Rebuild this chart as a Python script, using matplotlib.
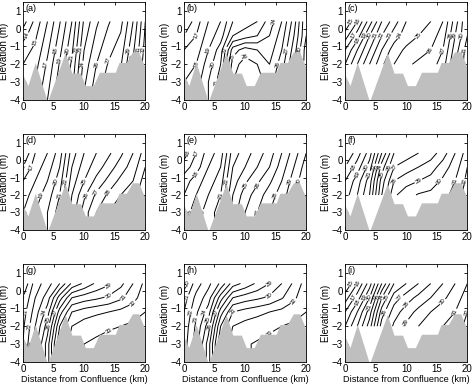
import numpy as np
import matplotlib
matplotlib.use("Agg")
import matplotlib.pyplot as plt

plt.rcParams['font.family'] = ['Liberation Sans', 'DejaVu Sans']

# grid for salinity fields (km, m)
x_grid = [0, 2, 4, 6, 8, 10, 12, 14, 16, 18, 20]
z_grid = [0.4, -0.4, -1.2, -2.0, -3.0, -4.0]

# bed profile
bed_x = [0, 0.8, 2.0, 3.9, 4.1, 6.9, 8.0, 9.4, 10.2, 11.5, 12.5, 15.1, 15.7, 16.9, 17.9, 18.9, 20]
bed_z = [-2.6, -3.2, -1.9, -4.0, -4.0, -1.35, -2.5, -2.5, -3.2, -3.2, -2.45, -2.45, -1.9, -1.9, -1.3, -1.3, -2.2]

nan = float('nan')
sal_a = [[12.5, 14.3, 16, 17.9, 20, 23.2, 24.8, 25.9, 26.7, 29, 32],
         [13.6, 14.8, 16.4, 18.3, 20.4, 23.6, 25.2, 26.3, 27.1, 29.4, 32.2],
         [14.6, 15.2, 16.8, 18.7, 20.8, 24.0, 25.6, 26.7, 27.5, 29.8, 32.4],
         [15.0, 15.6, 17.2, 19.1, 21.2, 24.4, 26.0, 27.1, 27.9, 30.2, 32.6],
         [15.4, 16.0, 17.6, 19.5, 21.6, 24.8, 26.4, 27.5, 28.3, 30.6, 32.8],
         [15.8, 16.4, 18.0, 19.9, 22.0, 25.2, 26.8, 27.9, 28.7, 31.0, 33.0]]
sal_b = [[15, 16.5, 18, 19, 21, 21.5, 22, 23.5, 25, 27.5, 31],
         [16, 17, 18.5, 19.5, 22, 22.5, 23, 24, 25.5, 28, 31],
         [17, 17.5, 19, 20.5, 24.5, 25.5, 25, 24.5, 26, 28.5, 31.5],
         [17.5, 18, 19.5, 21, 25.5, 26.5, 26, 25, 26.5, 29, 31.5],
         [18, 18.5, 20, 21.5, 26, 27, 26.5, 25.5, 27, 29.5, 32],
         [18, 18.5, 20, 21.5, 26, 27, 26.5, 25.5, 27, 29.5, 32]]
sal_c = [[14, 16, 18.5, 21, 22.5, 24, 24.5, 25, 26, 28.5, 31],
         [15.5, 17.5, 20, 22, 23.5, 24.5, 25, 25.5, 26.5, 29, 31],
         [17, 19, 21, 23, 24.5, 25.2, 25.6, 26, 27, 29.5, 31.5],
         [18, 20, 22, 23.8, 25, 25.8, 26.2, 26.5, 27.5, 30, 31.5],
         [nan, nan, nan, nan, nan, nan, nan, nan, nan, nan, nan],
         [nan, nan, nan, nan, nan, nan, nan, nan, nan, nan, nan]]
sal_d = [[15, 17, 18, 19.5, 22.5, 24, 25, 25.8, 26.8, 28, 29.5],
         [16, 17.5, 18.5, 20, 23, 24.5, 25.5, 26.5, 27.5, 28.5, 30],
         [17, 18, 19, 20.5, 23.5, 25, 26.3, 27.3, 28.3, 29, 30.5],
         [17.5, 18.5, 19.5, 21, 24, 25.8, 27.2, 28.2, 29, 29.5, 31],
         [18, 19, 20, 21.5, 24.5, 26.5, 28, 29, 29.5, 30, 31.5],
         [18, 19, 20, 21.5, 24.5, 26.5, 28, 29, 29.5, 30, 31.5]]
sal_e = [[15.5, 17, 18.5, 19.5, 22.5, 23.5, 24.5, 25.5, 27, 28.5, 30],
         [16.5, 17.5, 19, 20, 23, 24, 25, 26, 27.5, 29, 30.5],
         [17.5, 18.5, 19.5, 20.5, 23.5, 24.8, 25.8, 26.8, 28, 29.5, 30.8],
         [18, 19, 20, 21, 24, 25.5, 26.5, 27.5, 28.5, 29.8, 31],
         [18.5, 19.5, 20.5, 21.5, 24.5, 26, 27, 28, 29, 30, 31.2],
         [18.5, 19.5, 20.5, 21.5, 24.5, 26, 27, 28, 29, 30, 31.2]]
sal_f = [[16, 17.5, 19.5, 23, 26, 26.5, 27, 27.5, 28.5, 30, 31.5],
         [17, 18.5, 20.5, 24.5, 27, 27.5, 28, 28.5, 29.5, 30.5, 32],
         [18, 19.5, 21.5, 25.5, 28, 28.6, 29, 29.4, 30.2, 31, 32.3],
         [18.5, 20, 22, 26, 28.8, 29.6, 30.1, 30.3, 30.7, 31.3, 32.5],
         [nan, nan, nan, nan, nan, nan, nan, nan, nan, nan, nan],
         [nan, nan, nan, nan, nan, nan, nan, nan, nan, nan, nan]]
sal_g = [[19, 21.5, 22.5, 24, 26.2, 27.2, 28.2, 28.8, 29.7, 31, 32.3],
         [20, 22, 23.5, 26.5, 29, 29.5, 29.8, 30.2, 30.8, 31.6, 32.7],
         [20.5, 22.5, 24.5, 28.5, 31, 31.5, 31.8, 32, 32.3, 32.6, 33],
         [20.8, 23, 25.5, 30, 32, 32.5, 32.7, 32.9, 33, 33.2, 33.4],
         [21, 23.5, 26.5, 31, 32.5, 33, 33.2, 33.3, 33.4, 33.5, 33.6],
         [21, 23.5, 26.5, 31, 32.5, 33, 33.2, 33.3, 33.4, 33.5, 33.6]]
sal_h = [[19.5, 21.5, 22.7, 24.2, 26.5, 27.3, 28.2, 29, 30, 31.2, 32.5],
         [20.5, 22.3, 23.5, 26.5, 29, 29.5, 29.8, 30.2, 30.9, 31.8, 32.8],
         [21, 22.8, 24.5, 28.5, 31, 31.4, 31.7, 32, 32.3, 32.6, 33],
         [21.3, 23.2, 25.5, 30, 32, 32.4, 32.6, 32.8, 33, 33.2, 33.4],
         [21.5, 23.5, 26.5, 31, 32.5, 32.9, 33.1, 33.3, 33.4, 33.5, 33.6],
         [21.5, 23.5, 26.5, 31, 32.5, 32.9, 33.1, 33.3, 33.4, 33.5, 33.6]]
sal_i = [[14, 16, 18.5, 22, 25, 26, 27, 28, 29, 30, 31],
         [15.5, 17.5, 20, 24, 26.5, 27.5, 28.3, 29, 29.8, 30.5, 31.5],
         [17, 19, 21.5, 25.5, 27.5, 28.5, 29.3, 30, 30.5, 31, 32],
         [18, 20, 22.5, 26.5, 28.2, 29.2, 30, 30.6, 31, 31.5, 32.3],
         [nan, nan, nan, nan, nan, nan, nan, nan, nan, nan, nan],
         [nan, nan, nan, nan, nan, nan, nan, nan, nan, nan, nan]]

fields = [sal_a, sal_b, sal_c, sal_d, sal_e, sal_f, sal_g, sal_h, sal_i]
panel_labels = ['(a)', '(b)', '(c)', '(d)', '(e)', '(f)', '(g)', '(h)', '(i)']
x_ticks = [0, 5, 10, 15, 20]
y_ticks = [-4, -3, -2, -1, 0, 1]
y_tick_labels = ['\u22124', '\u22123', '\u22122', '\u22121', '0', '1']
levels = list(range(10, 36))

fig = plt.figure(figsize=(4.74, 3.87), dpi=100)
lefts = [0.0485, 0.388, 0.728]
bottoms = [0.742, 0.406, 0.065]
heights = [0.253, 0.248, 0.253]
width = 0.258
X, Z = np.meshgrid(x_grid, z_grid)

for k, S in enumerate(fields):
    r, c = divmod(k, 3)
    ax = fig.add_axes([lefts[c], bottoms[r], width, heights[r]])
    cs = ax.contour(X, Z, np.array(S, dtype=float), levels=levels,
                    colors='k', linewidths=0.7, zorder=2)
    labels = ax.clabel(cs, fmt='%d', fontsize=4.3, inline=True, inline_spacing=1)
    for t in labels:
        t.set_zorder(2.5)
        t.set_color('k')
    ax.fill_between(bed_x, bed_z, -4.5, color='#bfbfbf', linewidth=0, zorder=3)
    ax.set_xlim(0, 20)
    ax.set_ylim(-4, 1.5)
    ax.set_xticks(x_ticks)
    ax.set_yticks(y_ticks)
    ax.set_yticklabels(y_tick_labels)
    ax.tick_params(direction='in', length=2.5, width=0.6, labelsize=7, pad=1.5,
                   top=True, right=True)
    for sp in ax.spines.values():
        sp.set_linewidth(0.6)
        sp.set_zorder(5)
    ax.set_ylabel('Elevation (m)', fontsize=7, labelpad=0.5)
    if r == 2:
        ax.set_xlabel('Distance from Confluence (km)', fontsize=6.6, labelpad=0.5)
    ax.text(0.02, 0.98, panel_labels[k], transform=ax.transAxes,
            ha='left', va='top', fontsize=6.5, zorder=6)

fig.savefig('out.png', dpi=100)
